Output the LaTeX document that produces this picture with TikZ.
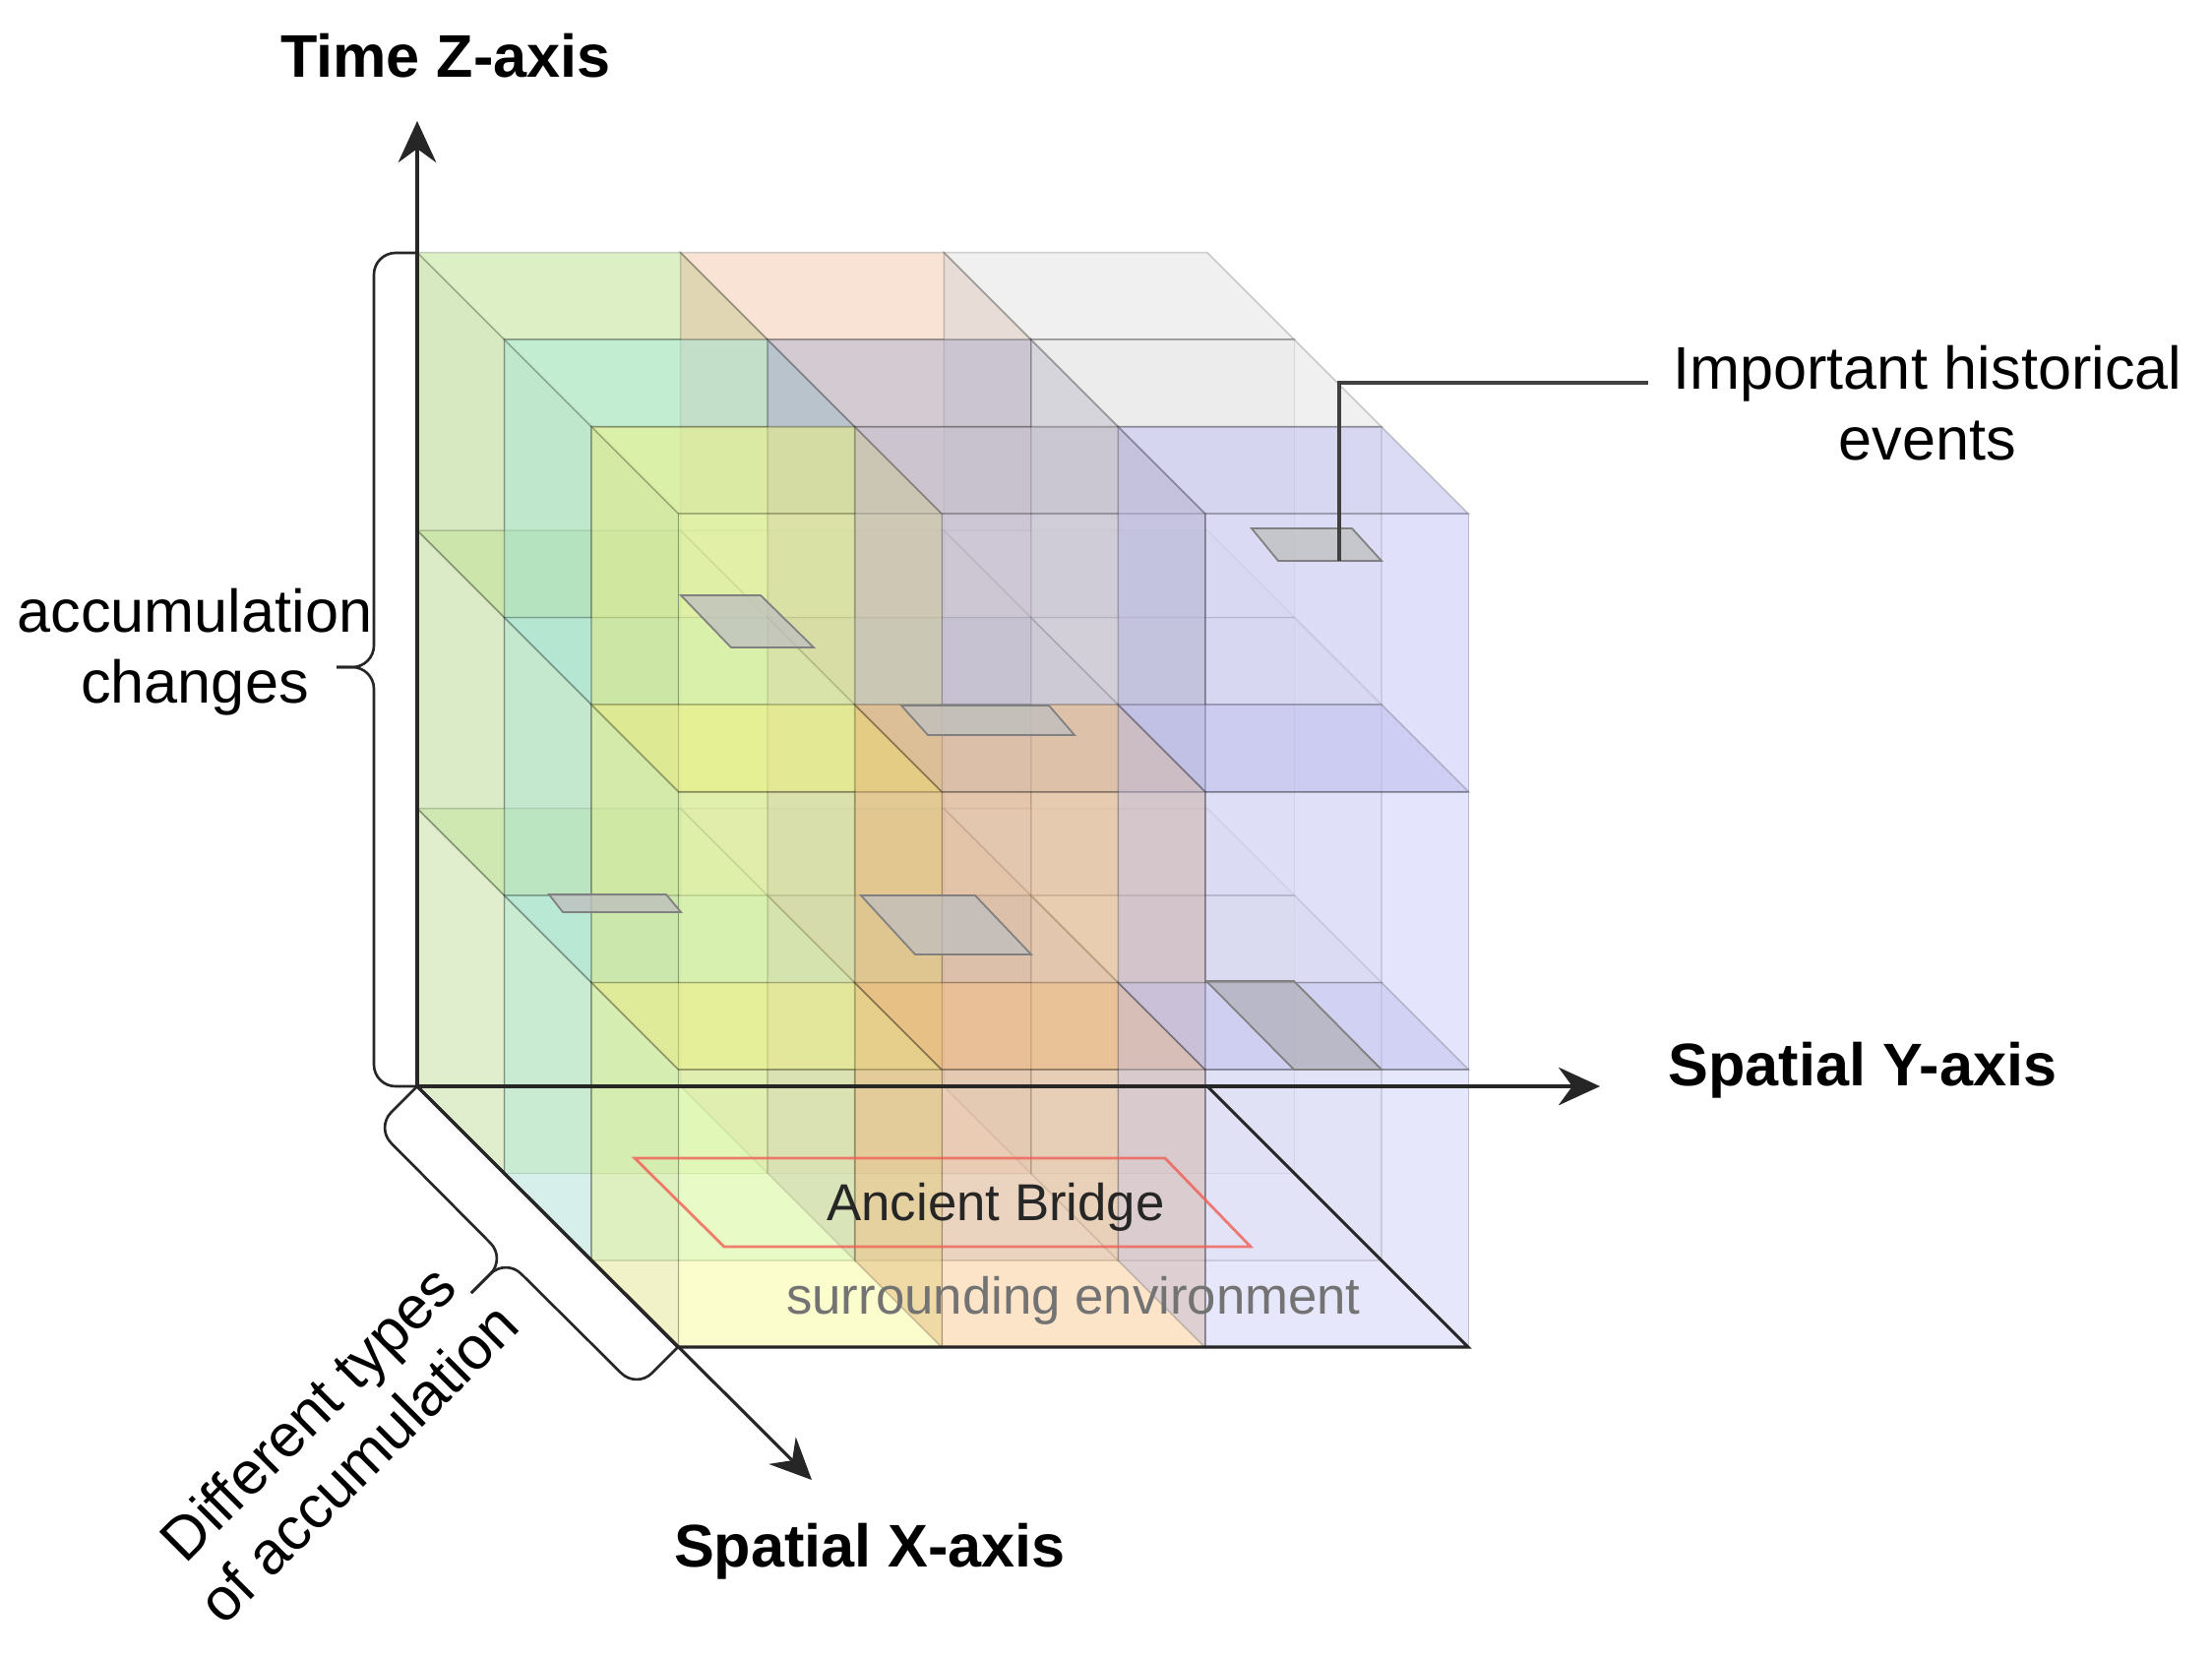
\documentclass[tikz,border=0pt]{standalone}
\usepackage{fontspec}
\setmainfont{Liberation Sans}
\usepackage{tikz}
\usetikzlibrary{arrows.meta, calc}

\begin{document}
\begin{tikzpicture}[x=0.01cm, y=-0.01cm, font=\fontsize{17.4}{20.5}\selectfont,
    axisarrow/.style={draw=black!85, line width=0.9pt, -{Stealth[length=12pt, width=11pt, inset=4pt]}},
    lbl/.style={font=\fontsize{17.4}{20.5}\selectfont\bfseries, anchor=base},
    brc/.style={draw=black!85, line width=0.75pt, rounded corners=0.22cm},
    cellface/.style={draw=black, draw opacity=0.18, line width=0.45pt},
    event/.style={fill=black!25, fill opacity=0.75, draw=black!50, line width=0.5pt},
    leader/.style={draw=black!75, line width=0.9pt}]
  \definecolor{cgreen}{RGB}{200,238,155}
  \definecolor{cmint}{RGB}{178,242,228}
  \definecolor{cyel}{RGB}{246,250,135}
  \definecolor{cpeach}{RGB}{255,215,185}
  \definecolor{clav}{RGB}{185,185,215}
  \definecolor{cgrey}{RGB}{240,240,240}
  \definecolor{corng}{RGB}{248,190,125}
  \definecolor{cmauve}{RGB}{205,198,212}
  \definecolor{cblue}{RGB}{198,198,248}
  \definecolor{bridge}{RGB}{240,95,85}
  \useasboundingbox (0,0) rectangle (2248,1684);
  % --- anchor points of the floor ---
  \coordinate (O)  at (424,1104);
  \coordinate (fl) at (689,1369);
  \coordinate (fr) at (1492,1369);
  \coordinate (br) at (1227,1104);
  % --- 3 x 3 x 3 accumulation cells (depth, column, row) ---
  \begin{scope}[shift={(O)}, x={(0.885cm,-0.885cm)}, y={(2.675cm,0cm)}, z={(0cm,2.823cm)}]
    \foreach \lyr/\clm/\rw/\tone in {0/0/2/cgreen, 0/0/1/cgreen, 0/0/0/cgreen,
                                     0/1/2/cpeach, 0/1/1/cpeach, 0/1/0/cpeach,
                                     0/2/2/cgrey, 0/2/1/cgrey, 0/2/0/cgrey,
                                     1/0/2/cmint, 1/0/1/cmint, 1/0/0/cmint,
                                     1/1/2/clav, 1/1/1/clav, 1/1/0/clav,
                                     1/2/2/cgrey, 1/2/1/cgrey, 1/2/0/cgrey,
                                     2/0/2/cyel, 2/0/1/cyel, 2/0/0/cyel,
                                     2/1/2/cmauve, 2/1/1/corng, 2/1/0/corng,
                                     2/2/2/cblue, 2/2/1/cblue, 2/2/0/cblue}{
      \pgfmathtruncatemacro{\lyrn}{\lyr+1}
      \pgfmathtruncatemacro{\clmn}{\clm+1}
      \pgfmathtruncatemacro{\rwn}{\rw+1}
      \pgfmathsetmacro{\op}{0.42+0.06*\rw}
      % left side
      \filldraw[cellface, fill=\tone!90!black, fill opacity=\op]
        (\lyr,\clm,\rw) -- (\lyrn,\clm,\rw) -- (\lyrn,\clm,\rwn) -- (\lyr,\clm,\rwn) -- cycle;
      % top
      \filldraw[cellface, fill=\tone!95!black, fill opacity=\op]
        (\lyr,\clm,\rwn) -- (\lyr,\clmn,\rwn) -- (\lyrn,\clmn,\rwn) -- (\lyrn,\clm,\rwn) -- cycle;
      % front
      \filldraw[cellface, fill=\tone, fill opacity=\op]
        (\lyrn,\clm,\rw) -- (\lyrn,\clmn,\rw) -- (\lyrn,\clmn,\rwn) -- (\lyrn,\clm,\rwn) -- cycle;
    }
  \end{scope}
  % --- floor outline, bridge and its surroundings ---
  \draw[black!85, line width=0.9pt] (O) -- (fl) -- (fr) -- (br);
  \draw[bridge, line width=0.8pt, draw opacity=0.8] (645,1177) -- (1184,1177) -- (1271,1267) -- (736,1267) -- cycle;
  \node[anchor=base, text=black!85, font=\fontsize{15}{18}\selectfont] (bridgetxt) at (1012,1240) {Ancient Bridge};
  \node[anchor=base, text=black!55, font=\fontsize{15}{18}\selectfont] (envtxt) at (1091,1335) {surrounding environment};
  % --- important historical events ---
  \filldraw[event] (692,605) -- (773,605) -- (827,658) -- (743,658) -- cycle;
  \filldraw[event] (916,717) -- (1066,717) -- (1092,747) -- (943,747) -- cycle;
  \filldraw[event] (558,909) -- (677,909) -- (692,927) -- (572,927) -- cycle;
  \filldraw[event] (875,910) -- (991,910) -- (1048,970) -- (930,970) -- cycle;
  \filldraw[event] (1272,537) -- (1374,537) -- (1404,570) -- (1299,570) -- cycle;
  \filldraw[event, fill=black!35, fill opacity=0.55] (1226,997) -- (1315,997) -- (1404,1087) -- (1315,1087) -- cycle;
  % --- axes ---
  \coordinate (ztip) at (424,123);
  \coordinate (ytip) at (1626,1104);
  \coordinate (xtip) at (825,1504);
  \draw[axisarrow] (O) -- (ztip);
  \draw[axisarrow] (O) -- (ytip);
  \draw[axisarrow] (O) -- (xtip);
  \node[lbl] (zlab) at (453,78) {Time Z-axis};
  \node[lbl] (ylab) at (1893,1103) {Spatial Y-axis};
  \node[lbl] (xlab) at (884,1592) {Spatial X-axis};
  % --- braces ---
  \coordinate (ztop) at (424,257);
  \coordinate (ztipb) at (342,678);
  \draw[brc] (ztop) -- (380,257) -- (380,678) -- (ztipb);
  \draw[brc] (ztipb) -- (380,678) -- (380,1104) -- (O);
  \coordinate (xtipb) at (479,1314);
  \draw[brc] (O) -- (382,1146) -- (514,1279) -- (xtipb);
  \draw[brc] (xtipb) -- (514,1279) -- (647,1411) -- (fl);
  \node[align=center, inner sep=0pt] (acclab) at (198,663) {accumulation\\changes};
  \node[align=center, inner sep=0pt, rotate=45] (typelab) at (338,1461) {Different types\\of accumulation};
  % --- callout ---
  \coordinate (evE) at (1361,570);
  \coordinate (leadEnd) at (1675,389);
  \draw[leader] (evE) |- (leadEnd);
  \node[align=center, inner sep=0pt] (hist) at (1959,410) {Important historical\\events};
\end{tikzpicture}
\end{document}
